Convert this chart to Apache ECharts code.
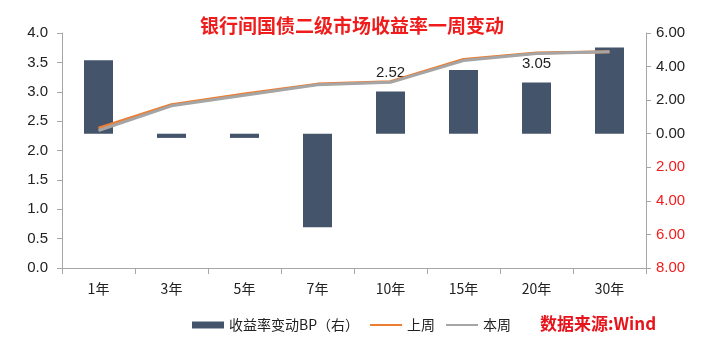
<!DOCTYPE html>
<html>
<head>
    <meta charset="UTF-8">
    <title>银行间国债二级市场收益率一周变动</title>
    <script src="https://cdn.jsdelivr.net/npm/echarts@6/dist/echarts.min.js"></script>
    <style type="text/css">
        html, body, #main {
            height: 100%;
            width: 100%;
            margin: 0;
            padding: 0;
            background: #fff;
        }
    </style>
</head>
<body>
<div id="main"></div>
<script type="text/javascript">
    var categories = ['1年', '3年', '5年', '7年', '10年', '15年', '20年', '30年'];
    var changeBP = [4.37, -0.25, -0.25, -5.57, 2.52, 3.80, 3.05, 5.13];
    var lastWeek = [2.38, 2.78, 2.96, 3.13, 3.17, 3.55, 3.66, 3.68];
    var thisWeek = [2.34, 2.76, 2.94, 3.12, 3.16, 3.53, 3.65, 3.68];
    var shownLabels = [4, 6];   // 只有10年和20年显示数值

    var fontFamily = 'Liberation Sans, Noto Sans CJK SC, sans-serif';
    var mycharts = echarts.init(document.getElementById('main'));
    var option = {
        animation: false,
        textStyle: {fontFamily: fontFamily},
        title: {
            text: '银行间国债二级市场收益率一周变动',
            left: 'center',
            top: 11,
            textStyle: {
                color: '#f01c1c',
                fontSize: 19,
                fontWeight: 'bold',
                fontFamily: 'Noto Sans CJK SC'
            }
        },
        grid: {left: 62, right: 58, top: 33, bottom: 76},
        legend: {
            left: 187,
            top: 313,
            itemWidth: 32,
            itemHeight: 7,
            itemGap: 10,
            textStyle: {fontSize: 14, color: '#222', fontFamily: 'Noto Sans CJK SC'},
            data: [
                {name: '收益率变动BP（右）', icon: 'rect'},
                {name: '上周', itemStyle: {opacity: 0}},
                {name: '本周', itemStyle: {opacity: 0}}
            ]
        },
        graphic: [{
            type: 'text',
            left: 540,
            top: 315,
            style: {
                text: '数据来源:Wind',
                fill: '#e8141c',
                font: 'bold 17px "Noto Sans CJK SC"'
            }
        }],
        xAxis: {
            type: 'category',
            data: categories,
            axisLine: {lineStyle: {color: '#a6a6a6'}},
            axisTick: {show: true, alignWithLabel: false, length: 6, lineStyle: {color: '#a6a6a6'}},
            axisLabel: {fontSize: 14, color: '#222', margin: 14, fontFamily: 'Noto Sans CJK SC'}
        },
        yAxis: [{
            type: 'value',
            min: 0,
            max: 4,
            interval: 0.5,
            splitLine: {show: false},
            axisLine: {show: true, lineStyle: {color: '#a6a6a6'}},
            axisTick: {show: true, length: 5, lineStyle: {color: '#a6a6a6'}},
            axisLabel: {
                fontSize: 15,
                color: '#222',
                margin: 14,
                formatter: function (v) { return v.toFixed(1); }
            }
        }, {
            type: 'value',
            min: -8,
            max: 6,
            interval: 2,
            splitLine: {show: false},
            axisLine: {show: true, lineStyle: {color: '#a6a6a6'}},
            axisTick: {show: true, length: 5, lineStyle: {color: '#a6a6a6'}},
            axisLabel: {
                fontSize: 15,
                margin: 10,
                color: function (v) { return Number(v) < 0 ? '#f01c1c' : '#222'; },
                formatter: function (v) { return Math.abs(v).toFixed(2); }
            }
        }],
        series: [{
            name: '收益率变动BP（右）',
            type: 'bar',
            yAxisIndex: 1,
            barWidth: 29,
            itemStyle: {color: '#44546a'},
            label: {
                show: true,
                position: 'top',
                distance: 11,
                fontSize: 15,
                color: '#222',
                formatter: function (p) {
                    return shownLabels.indexOf(p.dataIndex) >= 0 ? p.value.toFixed(2) : '';
                }
            },
            data: changeBP
        }, {
            name: '上周',
            type: 'line',
            yAxisIndex: 0,
            symbol: 'none',
            z: 3,
            lineStyle: {color: '#ed7d31', width: 3},
            itemStyle: {color: '#ed7d31'},
            data: lastWeek
        }, {
            name: '本周',
            type: 'line',
            yAxisIndex: 0,
            symbol: 'none',
            z: 4,
            lineStyle: {color: '#a5a5a5', width: 3},
            itemStyle: {color: '#a5a5a5'},
            data: thisWeek
        }]
    };
    mycharts.setOption(option);
</script>
</body>
</html>
